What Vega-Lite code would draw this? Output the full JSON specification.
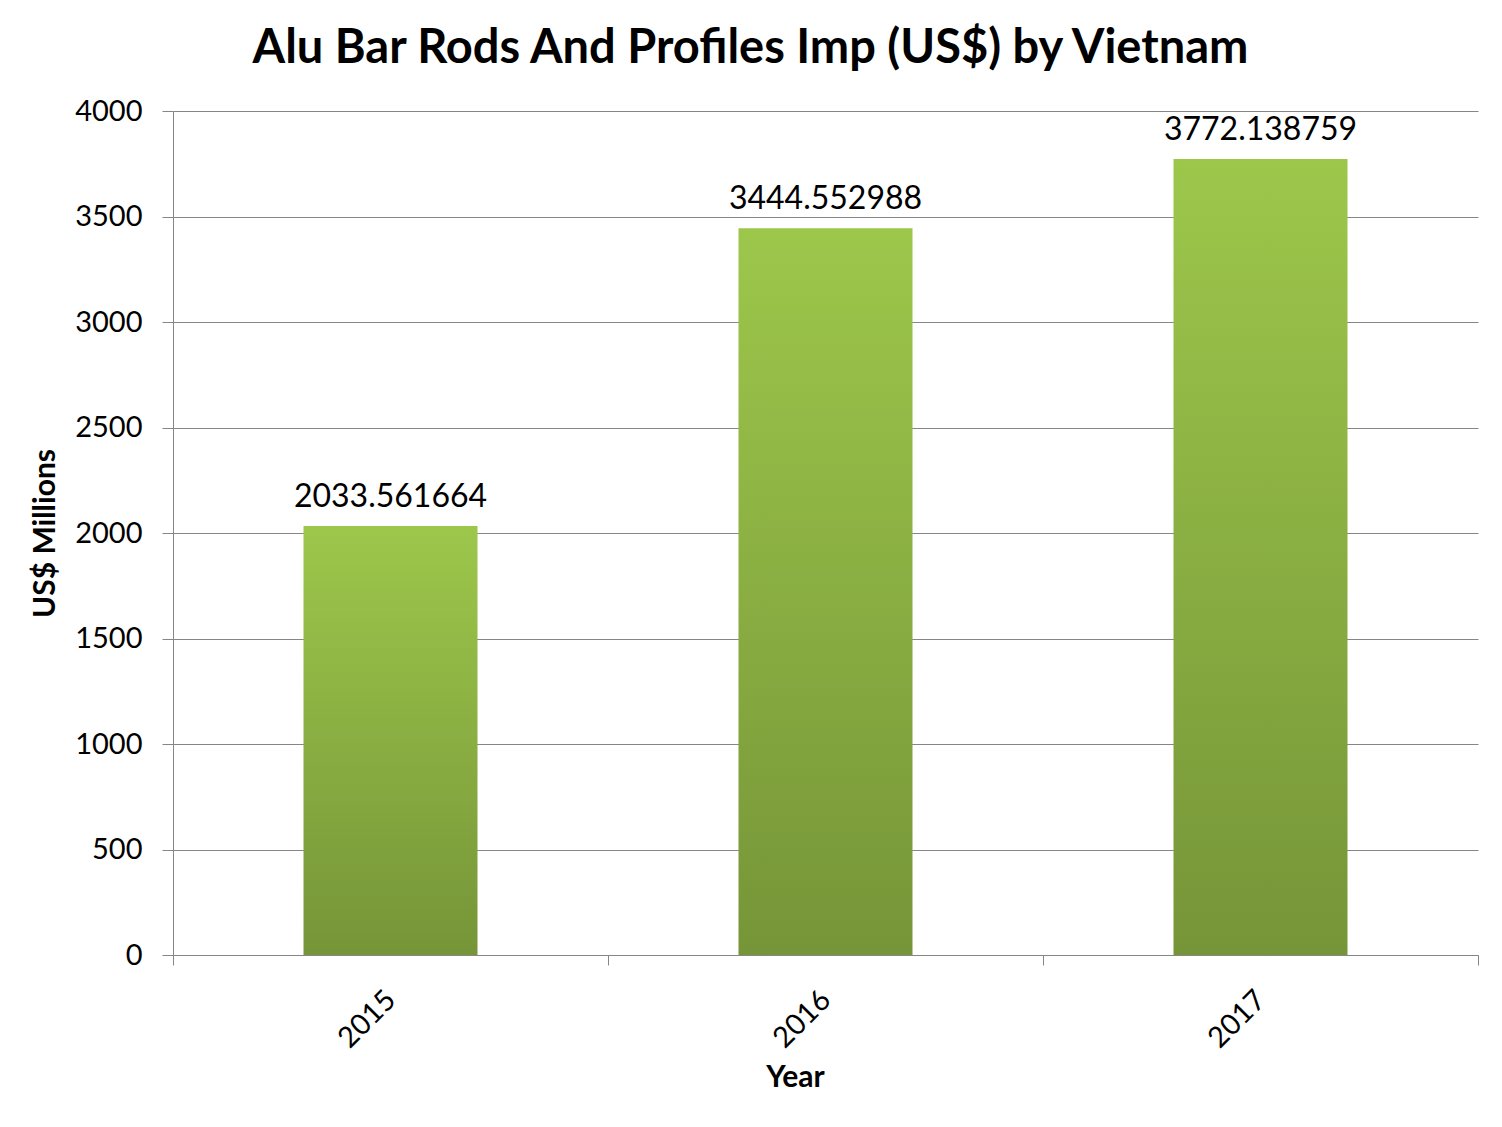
{
  "$schema": "https://vega.github.io/schema/vega-lite/v6.json",
  "description": "Alu Bar Rods And Profiles imports by Vietnam, 2015-2017.",
  "autosize": {"type": "none"},
  "width": 1305,
  "height": 844,
  "padding": {"left": 173, "top": 111, "right": 24, "bottom": 172},
  "background": "white",
  "title": {
    "text": "Alu Bar Rods And Profiles Imp (US$) by Vietnam",
    "font": "Lato",
    "fontSize": 47,
    "fontWeight": "bold",
    "color": "black",
    "anchor": "middle",
    "dx": -75,
    "offset": 24
  },
  "data": {
    "values": [
      {"Year": "2015", "Value": 2033.561664},
      {"Year": "2016", "Value": 3444.552988},
      {"Year": "2017", "Value": 3772.138759}
    ]
  },
  "encoding": {
    "x": {
      "field": "Year",
      "type": "nominal",
      "title": "Year",
      "scale": {"paddingInner": 0, "paddingOuter": 0},
      "axis": {
        "labelAngle": -45,
        "labelAlign": "right",
        "labelBaseline": "middle",
        "labelPadding": 30,
        "labelFontSize": 29,
        "tickBand": "extent",
        "tickSize": 10,
        "titleX": 622,
        "titleY": 122,
        "titleBaseline": "middle"
      }
    },
    "y": {
      "field": "Value",
      "type": "quantitative",
      "title": "US$ Millions",
      "scale": {"domain": [0, 4000]},
      "axis": {
        "values": [0, 500, 1000, 1500, 2000, 2500, 3000, 3500, 4000],
        "format": "d",
        "labelFontSize": 29,
        "tickSize": 11,
        "labelPadding": 20,
        "titlePadding": 14
      }
    }
  },
  "layer": [
    {
      "mark": {
        "type": "bar",
        "width": {"band": 0.4},
        "color": {
          "gradient": "linear",
          "x1": 0, "y1": 0, "x2": 0, "y2": 1,
          "stops": [
            {"offset": 0, "color": "#9dc74b"},
            {"offset": 1, "color": "#769538"}
          ]
        }
      }
    },
    {
      "mark": {
        "type": "text",
        "baseline": "bottom",
        "dy": -12,
        "font": "Lato",
        "fontSize": 32,
        "color": "black"
      },
      "encoding": {"text": {"field": "Value", "type": "quantitative", "format": ".6f"}}
    }
  ],
  "config": {
    "view": {"stroke": null},
    "axis": {
      "labelFont": "Lato",
      "labelFontSize": 28,
      "labelColor": "black",
      "titleFont": "Lato",
      "titleFontSize": 30,
      "titleFontWeight": "bold",
      "titleColor": "black",
      "domainColor": "#868686",
      "tickColor": "#868686",
      "gridColor": "#868686",
      "gridWidth": 1,
      "domainWidth": 1
    },
    "axisX": {"grid": false},
    "axisY": {"grid": true}
  }
}
